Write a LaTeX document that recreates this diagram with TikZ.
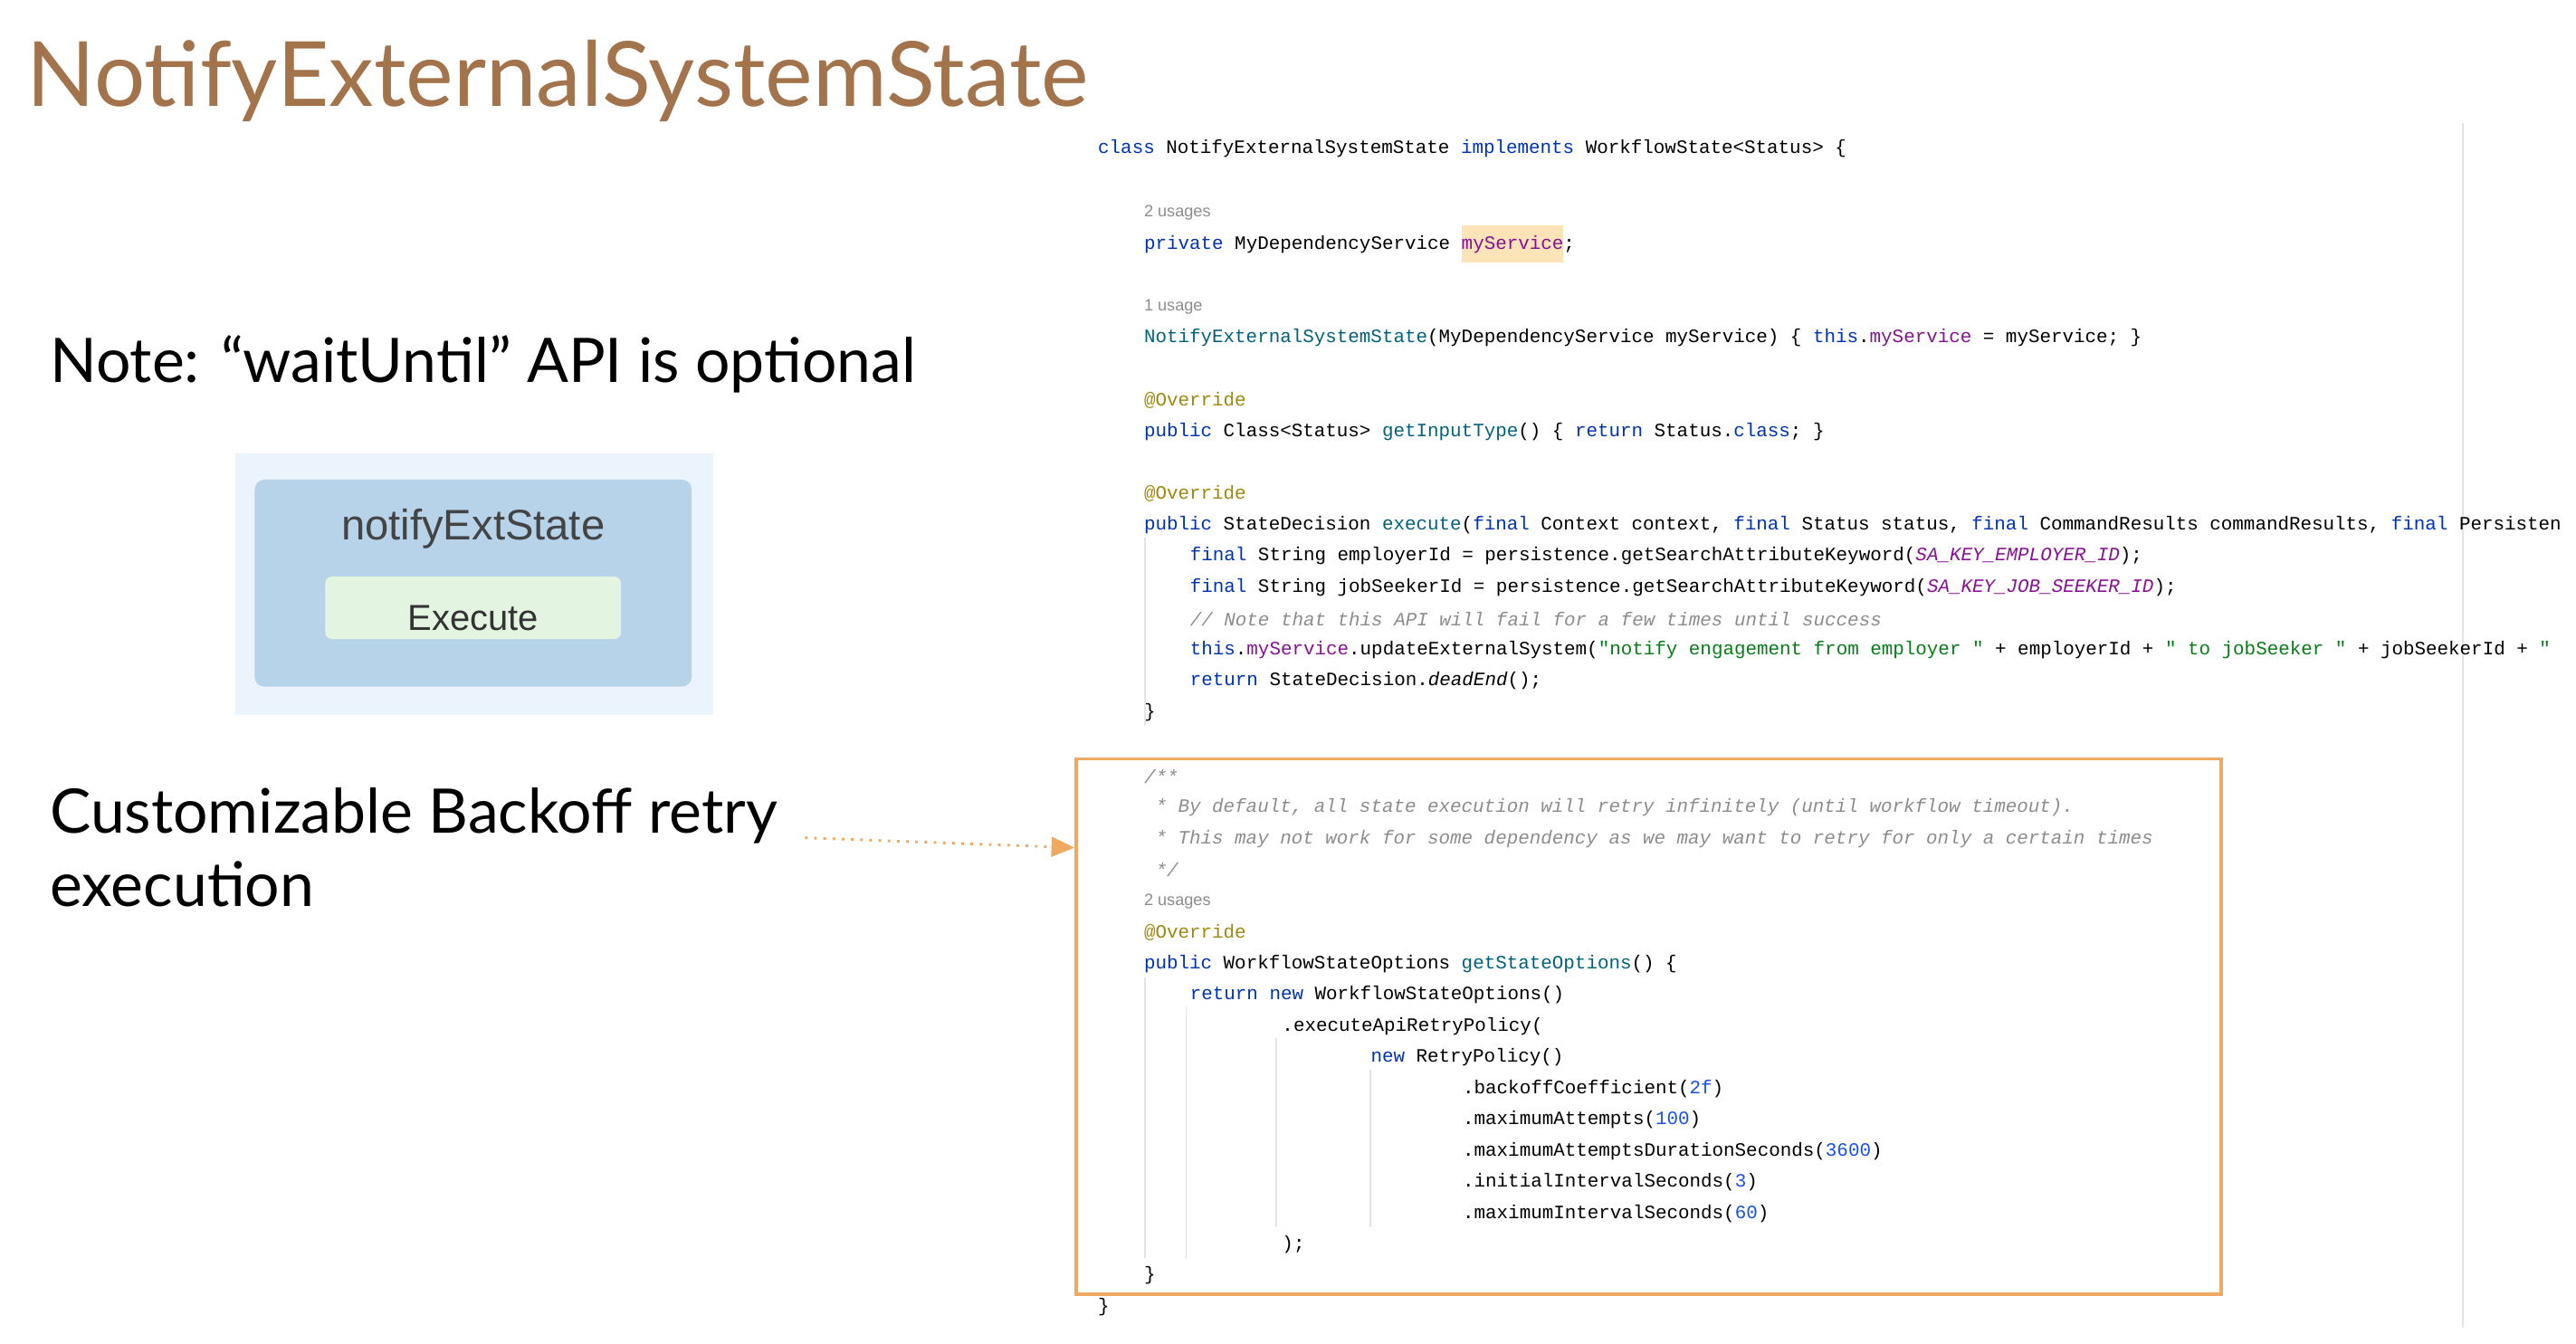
\documentclass[tikz,border=0pt]{standalone}
\usepackage{fontspec}
\usetikzlibrary{arrows.meta}
\setmainfont{Lato}
\setmonofont{Liberation Mono}
\newfontfamily\usagefont{Liberation Sans}
\newfontfamily\arialf{Liberation Sans}
\definecolor{titlec}{HTML}{A3744B}
\definecolor{kwc}{HTML}{0033B3}
\definecolor{fldc}{HTML}{871094}
\definecolor{mthc}{HTML}{00627A}
\definecolor{annc}{HTML}{9E880D}
\definecolor{cmtc}{HTML}{8C8C8C}
\definecolor{strc}{HTML}{067D17}
\definecolor{numc}{HTML}{1750EB}
\definecolor{orangec}{HTML}{F0A960}
\definecolor{guidec}{HTML}{E4E4E4}
\newcommand{\kw}[1]{\textcolor{kwc}{#1}}
\newcommand{\fld}[1]{\textcolor{fldc}{#1}}
\newcommand{\fldi}[1]{\textcolor{fldc}{\itshape #1}}
\newcommand{\mth}[1]{\textcolor{mthc}{#1}}
\newcommand{\ann}[1]{\textcolor{annc}{#1}}
\newcommand{\cmt}[1]{\textcolor{cmtc}{\itshape #1}}
\newcommand{\str}[1]{\textcolor{strc}{#1}}
\newcommand{\num}[1]{\textcolor{numc}{#1}}
\begin{document}
\begin{tikzpicture}[x=0.5pt,y=-0.5pt,
  code/.style={anchor=west,inner sep=0pt,yshift=-0.8pt,font=\ttfamily\fontsize{5.75}{6}\selectfont},
  usage/.style={anchor=west,inner sep=0pt,yshift=-0.8pt,text=cmtc,font=\usagefont\fontsize{5}{6}\selectfont},
  big/.style={anchor=base west,inner sep=0pt,font=\fontsize{18.7}{22}\selectfont},
  guide/.style={draw=guidec,line width=0.5pt}]
\path[use as bounding box] (0,0) rectangle (1568,818);
% title and notes
\node[anchor=base west,inner sep=0pt,text=titlec,font=\fontsize{27.4}{30}\selectfont] (title) at (16,65) {NotifyExternalSystemState};
\node[big] (note) at (30,233) {Note: “waitUntil” API is optional};
\node[big] (cust) at (30,507) {Customizable Backoff retry};
\node[big] (cust2) at (30,552) {execution};
% state box
\node[draw=none,fill={rgb,255:red,235;green,243;blue,252},minimum width=145.5pt,minimum height=79.5pt,inner sep=0pt] (outer) at (288.5,355.5) {};
\node[fill={rgb,255:red,183;green,211;blue,234},rounded corners=3pt,minimum width=133pt,minimum height=63pt,inner sep=0pt] (inner) at (288,355) {};
\node[text={rgb,255:red,68;green,68;blue,68},font=\arialf\fontsize{13}{14}\selectfont,inner sep=0pt] (lbl) at (288,322) {notifyExtState};
\node[fill={rgb,255:red,227;green,245;blue,225},rounded corners=2pt,minimum width=90pt,minimum height=19pt,inner sep=0pt] (exec) at (288,370) {};
\node[text={rgb,255:red,51;green,51;blue,51},font=\arialf\fontsize{11}{13}\selectfont,inner sep=0pt] (execl) at (288,376) {Execute};
% separator
\draw[guidec] (1499,75) -- (1499,808);
% code
\node[code] (c1) at (668,89) {\kw{class} NotifyExternalSystemState \kw{implements} WorkflowState<Status> \{};
\node[usage] (u1) at (696,128) {2 usages};
\node[code] (c2) at (696,147) {\kw{private} MyDependencyService \colorbox{yellow!22!orange!25!white}{\hspace{-3pt}\fld{myService}\hspace{-3pt}};};
\node[usage] (u2) at (696,185) {1 usage};
\node[code] (c3) at (696,204) {\mth{NotifyExternalSystemState}(MyDependencyService myService) \{ \kw{this}.\fld{myService} = myService; \}};
\node[code] (c4) at (696,242) {\ann{@Override}};
\node[code] (c5) at (696,261) {\kw{public} Class<Status> \mth{getInputType}() \{ \kw{return} Status.\kw{class}; \}};
\node[code] (c6) at (696,299) {\ann{@Override}};
\node[code] (c7) at (696,318) {\kw{public} StateDecision \mth{execute}(\kw{final} Context context, \kw{final} Status status, \kw{final} CommandResults commandResults, \kw{final} Persisten};
\node[code] (c8) at (724,337) {\kw{final} String employerId = persistence.getSearchAttributeKeyword(\fldi{SA\_KEY\_EMPLOYER\_ID});};
\node[code] (c9) at (724,356) {\kw{final} String jobSeekerId = persistence.getSearchAttributeKeyword(\fldi{SA\_KEY\_JOB\_SEEKER\_ID});};
\node[code] (c10) at (724,375) {\cmt{// Note that this API will fail for a few times until success}};
\node[code] (c11) at (724,394) {\kw{this}.\fld{myService}.updateExternalSystem(\str{"notify engagement from employer "} + employerId + \str{" to jobSeeker "} + jobSeekerId + \str{"}};
\node[code] (c12) at (724,413) {\kw{return} StateDecision.\textit{deadEnd}();};
\node[code] (c13) at (696,432) {\}};
\node[code] (c14) at (696,471) {\cmt{/**}};
\node[code] (c15) at (696,490) {\cmt{\ * By default, all state execution will retry infinitely (until workflow timeout).}};
\node[code] (c16) at (696,509) {\cmt{\ * This may not work for some dependency as we may want to retry for only a certain times}};
\node[code] (c17) at (696,528) {\cmt{\ */}};
\node[usage] (u3) at (696,547) {2 usages};
\node[code] (c18) at (696,566) {\ann{@Override}};
\node[code] (c19) at (696,585) {\kw{public} WorkflowStateOptions \mth{getStateOptions}() \{};
\node[code] (c20) at (724,604) {\kw{return} \kw{new} WorkflowStateOptions()};
\node[code] (c21) at (780,623) {.executeApiRetryPolicy(};
\node[code] (c22) at (834,642) {\kw{new} RetryPolicy()};
\node[code] (c23) at (890,661) {.backoffCoefficient(\num{2f})};
\node[code] (c24) at (890,680) {.maximumAttempts(\num{100})};
\node[code] (c25) at (890,699) {.maximumAttemptsDurationSeconds(\num{3600})};
\node[code] (c26) at (890,718) {.initialIntervalSeconds(\num{3})};
\node[code] (c27) at (890,737) {.maximumIntervalSeconds(\num{60})};
\node[code] (c28) at (780,756) {);};
\node[code] (c29) at (696,775) {\}};
\node[code] (c30) at (668,794) {\}};
% indent guides
\draw[guide] (697,327) -- (697,442);
\draw[guide] (697,595) -- (697,766);
\draw[guide] (722,613) -- (722,766);
\draw[guide] (777,632) -- (777,747);
\draw[guide] (834,651) -- (834,747);
% highlight box
\node[draw=orangec,line width=1pt,minimum width=348.5pt,minimum height=163pt,inner sep=0pt] (hl) at (1003.5,625) {};
\coordinate (arrs) at (490,510);
\draw[orangec,line width=0.8pt,dotted,-{Triangle[length=7pt,width=6pt]}] (arrs) -- (hl.west |- 0,516);
\end{tikzpicture}
\end{document}
